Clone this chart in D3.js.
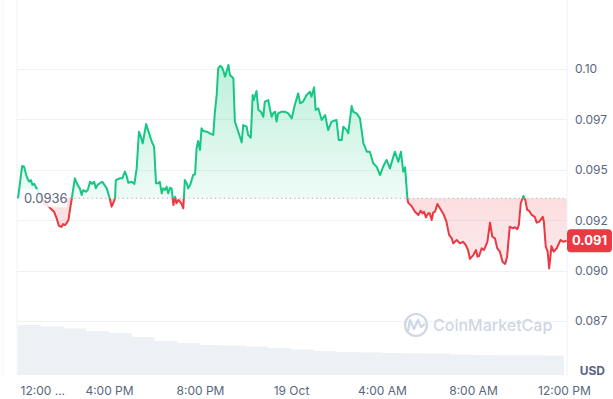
<!DOCTYPE html>
<html>
<head>
<meta charset=utf-8>
<style>
body {margin: 0; background: #fff;}
svg {display: block; font-family: Inter, 'Noto Sans', sans-serif;}
.axis path, .axis line {display: none;}
.axis text {fill: #58667e; font-size: 12px; font-family: Inter, sans-serif;}
</style>
</head>
<body>
<svg id=chart width=613 height=399></svg>

<script src='https://cdn.jsdelivr.net/npm/d3@7'></script>
<script>
//price series: minutes after 12:00 PM 18 Oct, price in USD
var minutes = [0,11,16,23,29,34,38,43,47,58,69,82,95,102,108,115,119,124,128,133,137,142,150,157,163,168,172,179,184,190,
  196,201,205,210,216,222,228,234,238,243,247,251,256,258,269,275,282,287,291,300,307,313,319,324,329,338,343,353,359,364,
  370,374,379,383,388,392,396,401,405,410,414,418,423,427,432,436,440,445,449,454,458,462,467,471,475,480,484,489,498,506,
  515,519,524,528,533,537,541,546,550,555,559,568,572,581,590,594,603,607,614,619,622,629,634,641,647,651,660,665,669,673,
  678,682,686,695,704,713,722,730,739,744,752,761,770,774,781,785,792,801,810,818,827,840,846,854,858,867,871,880,884,893,
  902,911,920,928,937,946,955,963,972,981,994,1003,1010,1016,1021,1027,1029,1038,1047,1056,1062,1067,1071,1076,1082,1086,
  1091,1095,1100,1106,1113,1122,1130,1137,1144,1148,1157,1166,1174,1181,1187,1192,1201,1208,1212,1216,1223,1229,1238,1245,
  1251,1258,1264,1271,1278,1285,1290,1297,1304,1311,1317,1321,1326,1333,1338,1343,1348,1355,1363,1368,1375,1384,1387,1392,
  1397,1401,1407,1413,1421,1431,1438,1447];
var prices = [0.09359,0.09519,0.09515,0.09466,0.09441,0.09449,0.09425,0.09430,0.09415,0.09375,0.09335,0.09315,0.09292,0.09259,
  0.09221,0.09218,0.09231,0.09226,0.09235,0.09251,0.09301,0.09359,0.09458,0.09425,0.09408,0.09375,0.09400,0.09391,0.09400,
  0.09441,0.09430,0.09441,0.09408,0.09425,0.09433,0.09441,0.09425,0.09408,0.09383,0.09350,0.09317,0.09334,0.09359,0.09449,
  0.09458,0.09458,0.09491,0.09466,0.09436,0.09441,0.09430,0.09507,0.09689,0.09664,0.09631,0.09727,0.09697,0.09639,0.09615,
  0.09433,0.09433,0.09441,0.09383,0.09408,0.09400,0.09416,0.09383,0.09411,0.09408,0.09325,0.09367,0.09334,0.09350,0.09342,
  0.09329,0.09309,0.09449,0.09433,0.09408,0.09425,0.09449,0.09474,0.09478,0.09607,0.09643,0.09598,0.09706,0.09692,0.09689,
  0.09681,0.09673,0.09780,0.09871,0.10003,0.10016,0.10011,0.09995,0.09962,0.09987,0.10020,0.09970,0.09954,0.09739,0.09689,
  0.09636,0.09722,0.09714,0.09673,0.09659,0.09871,0.09846,0.09891,0.09797,0.09788,0.09763,0.09838,0.09846,0.09797,0.09763,
  0.09780,0.09788,0.09739,0.09780,0.09788,0.09788,0.09780,0.09755,0.09821,0.09879,0.09830,0.09838,0.09871,0.09887,0.09863,
  0.09909,0.09797,0.09805,0.09747,0.09772,0.09697,0.09739,0.09747,0.09648,0.09648,0.09714,0.09697,0.09681,0.09816,0.09788,
  0.09780,0.09755,0.09631,0.09590,0.09590,0.09532,0.09515,0.09474,0.09515,0.09549,0.09507,0.09590,0.09540,0.09590,0.09491,
  0.09512,0.09359,0.09337,0.09320,0.09292,0.09276,0.09297,0.09284,0.09292,0.09264,0.09284,0.09284,0.09251,0.09287,0.09292,
  0.09330,0.09309,0.09281,0.09243,0.09177,0.09160,0.09135,0.09152,0.09135,0.09143,0.09127,0.09102,0.09058,0.09077,0.09102,
  0.09069,0.09072,0.09111,0.09102,0.09143,0.09238,0.09168,0.09160,0.09111,0.09094,0.09044,0.09033,0.09069,0.09218,0.09210,
  0.09215,0.09205,0.09226,0.09334,0.09370,0.09350,0.09301,0.09297,0.09276,0.09267,0.09238,0.09243,0.09267,0.09243,0.09119,
  0.09094,0.09011,0.09122,0.09094,0.09111,0.09152,0.09143,0.09148];

//24h volume (millions USD), hourly
var volHours = [0,1,2,3,4,5,6,7,8,9,10,11,12,13,14,15,16,17,18,19,20,21,22,23,24];
var volumes = [5.0,4.85,4.65,4.4,4.2,3.8,3.4,3.2,3.0,2.95,2.85,2.7,2.55,2.4,2.3,2.25,2.2,2.17,2.15,2.05,2.0,1.98,1.97,1.96,1.96];

var yTicks = [0.0875, 0.09, 0.0925, 0.095, 0.0975, 0.1];
var yTickLabels = ['0.087', '0.090', '0.092', '0.095', '0.097', '0.10'];
var xTicks = [0, 240, 480, 720, 960, 1200, 1440];
var xTickLabels = ['12:00 ...', '4:00 PM', '8:00 PM', '19 Oct', '4:00 AM', '8:00 AM', '12:00 PM'];

var green = '#16c784', red = '#ea3943', grid = '#eff2f5';
var t0 = new Date(2023, 9, 18, 12, 0);
function t(m){ return new Date(t0.getTime() + m * 60000); }

var svg = d3.select('#chart');
var left = 17, right = 567, volBottom = 375;

var x = d3.scaleTime().domain([t(0), t(1448)]).range([18, right]);
var y = d3.scaleLinear().domain([0.0875, 0.1]).range([321, 69]);
var yv = d3.scaleLinear().domain([0, 5.0]).range([volBottom, 325]);

var data = minutes.map(function(m, i){ return {t: t(m), p: prices[i]}; });
var base = prices[0];
var baseY = y(base);

//frame lines
[3, left, right].forEach(function(xx, i){
  svg.append('line').attr('x1', xx).attr('x2', xx).attr('y1', 0).attr('y2', volBottom)
      .attr('stroke', i === 0 ? '#f5f6f8' : grid).attr('stroke-width', 1);
});

//gridlines
svg.append('g').selectAll('line').data(yTicks).enter().append('line')
    .attr('x1', left).attr('x2', right)
    .attr('y1', function(d){ return Math.round(y(d)) + 0.5; })
    .attr('y2', function(d){ return Math.round(y(d)) + 0.5; })
    .attr('stroke', grid);

//volume
svg.append('path')
    .datum(volHours.map(function(h, i){ return {t: t(h * 60), v: volumes[i]}; }))
    .attr('fill', '#edf0f4')
    .attr('d', d3.area().curve(d3.curveStepAfter)
      .x(function(d){ return Math.min(x(d.t), right); })
      .y0(volBottom).y1(function(d){ return yv(d.v); }));

//watermark
var wm = svg.append('g').attr('fill', 'none').attr('stroke', '#cfd6e4');
wm.append('circle').attr('cx', 416).attr('cy', 325).attr('r', 11).attr('stroke-width', 2.2);
wm.append('path').attr('stroke-width', 2.2).attr('stroke-linejoin', 'round')
    .attr('d', 'M408,331 L410,320 L414,329 L418,320 L421,327 L425,324');
svg.append('text').attr('x', 433).attr('y', 331).attr('fill', '#cfd6e4')
    .attr('font-size', 16).attr('font-weight', 500).text('CoinMarketCap');

//gradients and clips
var defs = svg.append('defs');
var gg = defs.append('linearGradient').attr('id', 'gUp').attr('gradientUnits', 'userSpaceOnUse')
    .attr('x1', 0).attr('x2', 0).attr('y1', y(0.1002)).attr('y2', baseY);
gg.append('stop').attr('offset', 0).attr('stop-color', green).attr('stop-opacity', 0.28);
gg.append('stop').attr('offset', 1).attr('stop-color', green).attr('stop-opacity', 0.07);
var gr = defs.append('linearGradient').attr('id', 'gDown').attr('gradientUnits', 'userSpaceOnUse')
    .attr('x1', 0).attr('x2', 0).attr('y1', baseY).attr('y2', y(0.0900));
gr.append('stop').attr('offset', 0).attr('stop-color', red).attr('stop-opacity', 0.17);
gr.append('stop').attr('offset', 1).attr('stop-color', red).attr('stop-opacity', 0.1);
defs.append('clipPath').attr('id', 'cUp').append('rect')
    .attr('x', 0).attr('y', 0).attr('width', 613).attr('height', baseY);
defs.append('clipPath').attr('id', 'cDown').append('rect')
    .attr('x', 0).attr('y', baseY).attr('width', 613).attr('height', 399 - baseY);

var area = d3.area().x(function(d){ return x(d.t); }).y0(baseY).y1(function(d){ return y(d.p); });
var line = d3.line().x(function(d){ return x(d.t); }).y(function(d){ return y(d.p); });

svg.append('path').datum(data).attr('clip-path', 'url(#cUp)').attr('fill', 'url(#gUp)').attr('d', area);
svg.append('path').datum(data).attr('clip-path', 'url(#cDown)').attr('fill', 'url(#gDown)').attr('d', area);

//baseline
svg.append('line').attr('x1', left).attr('x2', right).attr('y1', baseY).attr('y2', baseY)
    .attr('stroke', '#a6adb9').attr('stroke-width', 1.2).attr('stroke-dasharray', '1.2,3.2');

svg.append('path').datum(data).attr('clip-path', 'url(#cUp)').attr('fill', 'none')
    .attr('stroke', green).attr('stroke-width', 2).attr('stroke-linejoin', 'round').attr('d', line);
svg.append('path').datum(data).attr('clip-path', 'url(#cDown)').attr('fill', 'none')
    .attr('stroke', red).attr('stroke-width', 2).attr('stroke-linejoin', 'round').attr('d', line);

//base price label
svg.append('rect').attr('x', 21).attr('y', baseY - 9).attr('width', 46).attr('height', 18)
    .attr('fill', '#fff').attr('fill-opacity', 0.82);
svg.append('text').attr('x', 24).attr('y', baseY).attr('dy', '0.35em')
    .attr('fill', '#58667e').attr('font-size', 13).text(d3.format('.4f')(base));

//right axis
svg.append('g').attr('class', 'axis')
    .attr('transform', 'translate(566,0)')
    .call(d3.axisRight(y).tickValues(yTicks).tickSize(0).tickPadding(9)
      .tickFormat(function(d, i){ return yTickLabels[i]; }));

svg.append('text').attr('x', 605).attr('y', 371).attr('dy', '0.35em').attr('text-anchor', 'end')
    .attr('fill', '#58667e').attr('font-size', 12).attr('font-weight', 700).text('USD');

//bottom axis
var xa = svg.append('g').attr('class', 'axis')
    .attr('transform', 'translate(0,378)')
    .call(d3.axisBottom(x).tickValues(xTicks.map(t)).tickSize(0).tickPadding(8)
      .tickFormat(function(d, i){ return xTickLabels[i]; }));
xa.selectAll('text').filter(function(d, i){ return i === 0; })
    .attr('text-anchor', 'start').attr('x', 2);

//last price badge
var last = prices[prices.length - 1];
svg.append('rect').attr('x', 567).attr('y', y(last) - 11.5).attr('width', 45).attr('height', 23)
    .attr('rx', 4).attr('fill', red);
svg.append('text').attr('x', 589.5).attr('y', y(last)).attr('dy', '0.35em').attr('text-anchor', 'middle')
    .attr('fill', '#fff').attr('font-size', 13).attr('font-weight', 700).text(d3.format('.3f')(last));
</script>
</body>
</html>
